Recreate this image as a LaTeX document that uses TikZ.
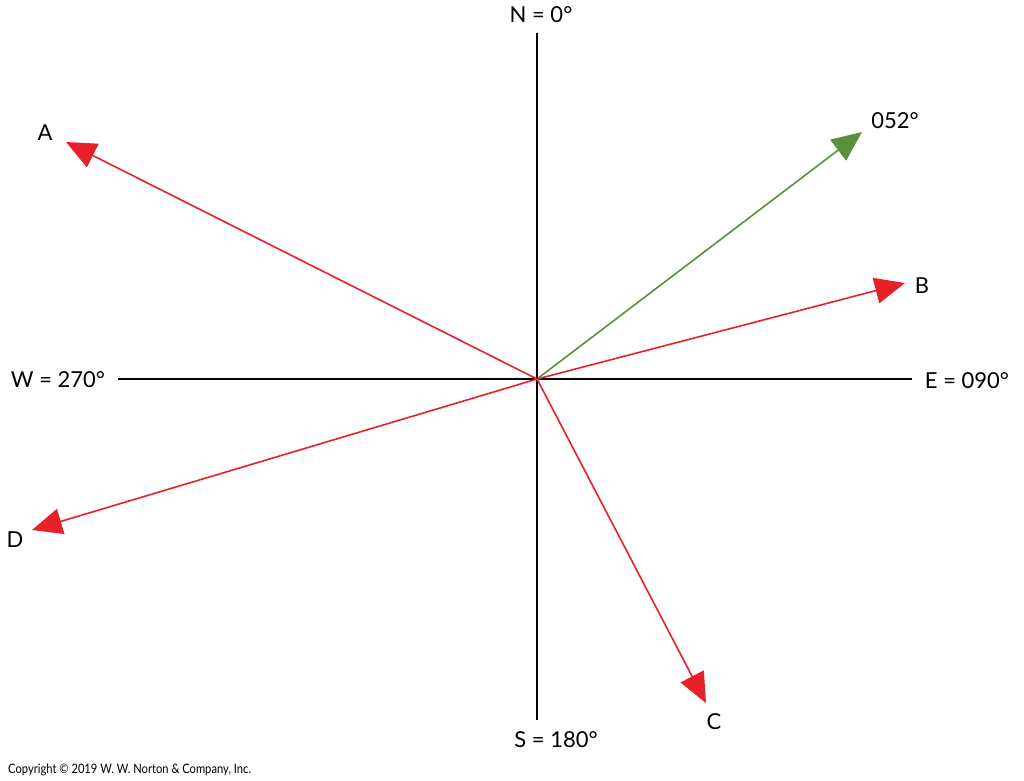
\documentclass[tikz,border=0pt]{standalone}
\usepackage{fontspec}
\setmainfont{Lato}
\usetikzlibrary{arrows.meta}
\definecolor{vred}{HTML}{E8202A}
\definecolor{vgreen}{HTML}{5A8F3C}
\tikzset{axis/.style={line width=2pt,black},
vec/.style={line width=1.6pt,-{Triangle[length=30pt,width=26pt]}},
lbl/.style={font=\fontsize{22}{26}\selectfont,inner sep=0pt}}
\begin{document}
\begin{tikzpicture}[x=1pt,y=-1pt]
\useasboundingbox (0,0) rectangle (1024,780);
\coordinate (O) at (537,379);
\coordinate (Nt) at (537,33); \coordinate (St) at (537,720);
\coordinate (Wt) at (118,379); \coordinate (Et) at (912,379);
\draw[axis] (Nt) -- (St);
\draw[axis] (Wt) -- (Et);
\coordinate (A) at (66,142); \coordinate (G) at (862,132);
\coordinate (B) at (905,283); \coordinate (D) at (32,530); \coordinate (C) at (706,703);
\draw[vec,vred] (O) -- (A);
\draw[vec,vgreen] (O) -- (G);
\draw[vec,vred] (O) -- (B);
\draw[vec,vred] (O) -- (D);
\draw[vec,vred] (O) -- (C);
\node[lbl] (nN) at (541,15) {N = 0°};
\node[lbl] (nS) at (556,740) {S = 180°};
\node[lbl] (nW) at (58,380) {W = 270°};
\node[lbl] (nE) at (967,381) {E = 090°};
\node[lbl] (nG) at (895,121) {052°};
\node[lbl] (nA) at (45,133) {A};
\node[lbl] (nB) at (922,286) {B};
\node[lbl] (nC) at (714,722) {C};
\node[lbl] (nD) at (15,540) {D};
\node[inner sep=0pt,anchor=west,font=\fontsize{13}{15}\selectfont,xscale=0.86] (cp) at (8,770) {Copyright © 2019 W. W. Norton \& Company, Inc.};
\end{tikzpicture}
\end{document}
